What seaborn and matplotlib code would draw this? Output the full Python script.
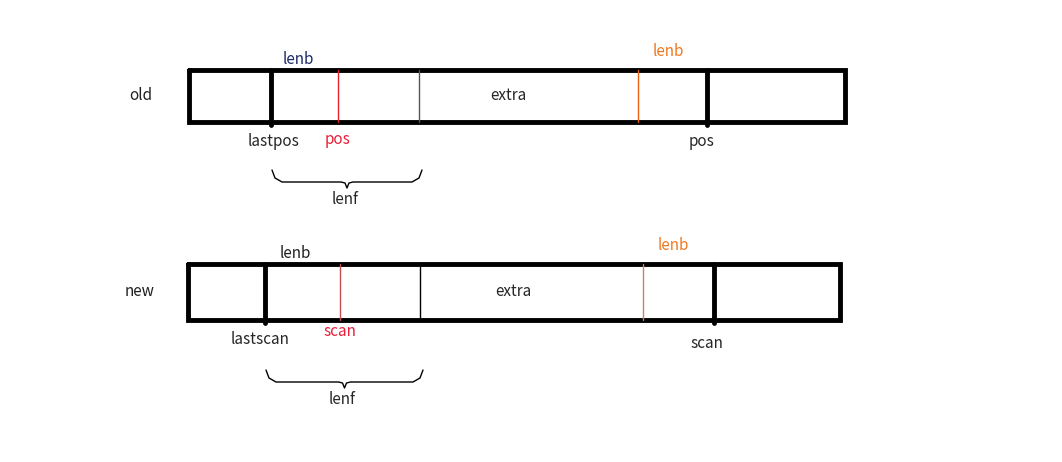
import matplotlib
matplotlib.use("Agg")
import matplotlib.pyplot as plt
import seaborn as sns
import numpy as np

sns.set_theme(style="white")
plt.rcParams['font.family'] = ['Noto Sans CJK SC', 'DejaVu Sans']

# rows of the diagram: label, box extent, dividers
row_names = ["old", "new"]
box_left = [189, 188]
box_right = [845, 840]
box_top = [70, 264]
box_bottom = [122, 320]
thick_left = [271, 265]
thick_right = [707, 714]
thin_red = [338, 340]
thin_black = [419, 420]
thin_orange = [638, 643]
low_labels = [("lastpos", "pos", "pos"), ("lastscan", "scan", "scan")]

fig = plt.figure(figsize=(10.62, 4.62), dpi=100)
ax = fig.add_axes([0, 0, 1, 1])
ax.set_xlim(0, 1062)
ax.set_ylim(462, 0)
ax.axis("off")


def brace(x0, x1, y0, y1):
    xm = (x0 + x1) / 2
    xs = [x0, x0 + 3, x0 + 10, xm - 6, xm - 2, xm, xm + 2, xm + 6, x1 - 10, x1 - 3, x1]
    ys = [y0, y1 - 4, y1, y1, y1 + 1, y1 + 6, y1 + 1, y1, y1, y1 - 4, y0]
    ax.plot(xs, ys, color="black", lw=1)


for i, name in enumerate(row_names):
    l, r, t, b = box_left[i], box_right[i], box_top[i], box_bottom[i]
    ax.plot([l, r, r, l, l], [t, t, b, b, t], color="black", lw=3.5, solid_joinstyle="miter")
    ax.plot([thick_left[i]] * 2, [t, b + 3], color="black", lw=3.5)
    ax.plot([thick_right[i]] * 2, [t, b + 3], color="black", lw=3.5)
    ax.plot([thin_red[i]] * 2, [t, b], color="#e8202a" if i == 0 else "#c05050", lw=1)
    ax.plot([thin_black[i]] * 2, [t, b], color="#555555" if i == 0 else "black", lw=1)
    ax.plot([thin_orange[i]] * 2, [t, b], color="#e86010" if i == 0 else "#d08060", lw=1)
    ym = (t + b) / 2
    ax.text(l - 48, ym, name, ha="center", va="center", fontsize=11, color="#202020")
    ax.text((thin_black[i] + thin_orange[i]) / 2 - 20 + i * 2, ym, "extra", ha="center", va="center", fontsize=11)
    lo = low_labels[i]
    ax.text(thick_left[i] + 3 - 8 * i, b + 19, lo[0], ha="center", va="center", fontsize=11)
    ax.text(thin_red[i], b + 17 - 5 * i, lo[1], ha="center", va="center", fontsize=11, color="#e8203a")
    ax.text(thick_right[i] - 5 - 2 * i, b + 19 + 4 * i, lo[2], ha="center", va="center", fontsize=11)
    ax.text(thick_left[i] + 27 + 3 * i, t - 10, "lenb", ha="center", va="center", fontsize=11,
            color="#1a2a6a" if i == 0 else "#202020")
    ax.text(thin_orange[i] + 30, t - 19, "lenb", ha="center", va="center", fontsize=11, color="#f07820")
    bt = b + 48 + 2 * i
    brace(thick_left[i] + 1, thin_black[i] + 3, bt, bt + 12)
    ax.text((thick_left[i] + thin_black[i]) / 2, bt + 30, "lenf", ha="center", va="center", fontsize=11)

# underline over the first lenb
ax.plot([275, 316], [70, 70], color="black", lw=1)

fig.savefig("out.png", dpi=100)
